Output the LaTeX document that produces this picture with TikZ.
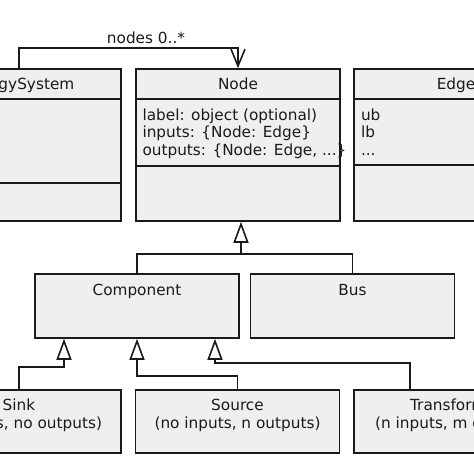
\documentclass[tikz,border=0pt]{standalone}
\usepackage{fontspec}
\setmainfont{DejaVu Sans}
\usetikzlibrary{arrows.meta, calc}
\definecolor{boxfill}{RGB}{239, 239, 239}
\definecolor{ink}{RGB}{26, 26, 26}
\newcommand*{\boxwidth}{204}

\begin{document}
\begin{tikzpicture}[x=1pt, y=-1pt, line width=1.6pt,
  classbox/.style={draw=ink, fill=boxfill, minimum width=\boxwidth pt, inner sep=0pt},
  classname/.style={inner sep=0pt, text=ink, anchor=base,
    font=\fontsize{15.3}{18}\selectfont},
  members/.style={inner sep=0pt, text=ink, align=left, anchor=base west,
    font=\fontsize{15.3}{17.5}\selectfont},
  inherit/.style={draw=ink, -{Triangle[length=21pt, width=15pt, fill=white]}},
  assoc/.style={draw=ink, -{Straight Barb[length=17pt, width=14pt]}}]

  \useasboundingbox (0, 0) rectangle (474, 474);
  \clip (0, 0) rectangle (474, 474);

  % top row: classes
  \node[classbox, minimum height=152pt] (es) at (19, 145) {};
  \node[classname] (es-name) at ($(es.north) + (0, 21)$) {EnergySystem};
  \draw[ink] ($(es.north west) + (0, 31)$) -- ($(es.north east) + (0, 31)$);
  \draw[ink] ($(es.north west) + (0, 115)$) -- ($(es.north east) + (0, 115)$);

  \node[classbox, minimum height=152pt] (nd) at (238, 145) {};
  \node[classname] (nd-name) at ($(nd.north) + (0, 21)$) {Node};
  \draw[ink] ($(nd.north west) + (0, 31)$) -- ($(nd.north east) + (0, 31)$);
  \draw[ink] ($(nd.north west) + (0, 98)$) -- ($(nd.north east) + (0, 98)$);
  \node[members] (nd-attrs) at ($(nd.north west) + (6.5, 87)$)
    {label: object (optional)\\ inputs: \{Node: Edge\}\\ outputs: \{Node: Edge, ...\}};

  \node[classbox, minimum height=152pt] (edge) at (456, 145) {};
  \node[classname] (edge-name) at ($(edge.north) + (0, 21)$) {Edge};
  \draw[ink] ($(edge.north west) + (0, 31)$) -- ($(edge.north east) + (0, 31)$);
  \draw[ink] ($(edge.north west) + (0, 97)$) -- ($(edge.north east) + (0, 97)$);
  \node[members] (edge-attrs) at ($(edge.north west) + (7, 87)$)
    {ub\\ lb\\ ...};

  % middle row
  \node[classbox, minimum height=64pt] (comp) at (137, 306) {};
  \node[classname] (comp-name) at ($(comp.north) + (0, 22)$) {Component};

  \node[classbox, minimum height=64pt] (bus) at (352.5, 306) {};
  \node[classname] (bus-name) at ($(bus.north) + (0, 22)$) {Bus};

  % bottom row
  \node[classbox, minimum height=63pt] (sink) at (19, 421.5) {};
  \node[classname, align=center] (sink-name) at ($(sink.north) + (0, 39)$)
    {Sink\\ (n inputs, no outputs)};

  \node[classbox, minimum height=63pt] (src) at (237.5, 421.5) {};
  \node[classname, align=center] (src-name) at ($(src.north) + (0, 39)$)
    {Source\\ (no inputs, n outputs)};

  \node[classbox, minimum height=63pt] (trans) at (456, 421.5) {};
  \node[classname, align=center] (trans-name) at ($(trans.north) + (0, 39)$)
    {Transformer\\ (n inputs, m outputs)};

  % connectors
  \draw[assoc] (es.north) -- ++(0, -20) -| node[classname, pos=0.29, above=4pt] (nodes-label)
    {nodes 0..*} (nd.north);

  \coordinate (gen-bar) at ($(nd.south) + (3, 32)$);
  \draw[inherit] (comp.north) |- (gen-bar) -- ($(nd.south) + (3, 0)$);
  \draw[ink] (bus.north) |- (gen-bar);

  \coordinate (tip-sink) at ($(comp.south) + (-73, 0)$);
  \coordinate (tip-trans) at ($(comp.south) + (78, 0)$);
  \draw[inherit] (sink.north) -- ++(0, -22) -| (tip-sink);
  \draw[inherit] (src.north) -- ++(0, -13) -| (comp.south);
  \draw[inherit] ($(trans.north) + (-46, 0)$) -- ++(0, -26) -| (tip-trans);

\end{tikzpicture}
\end{document}
